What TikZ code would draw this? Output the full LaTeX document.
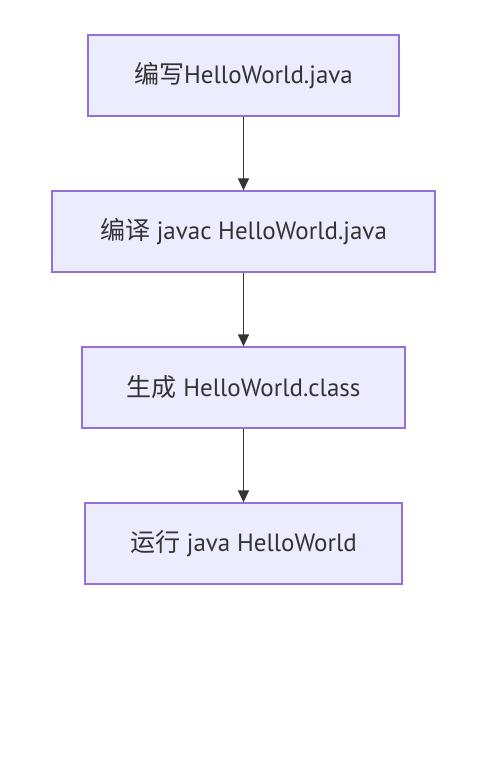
\documentclass[tikz,border=0pt]{standalone}
\usepackage{fontspec}
\setmainfont{PT Sans}
\newfontfamily\cjk{Noto Sans CJK SC}
\usetikzlibrary{arrows.meta}
\definecolor{boxfill}{HTML}{ECECFF}
\definecolor{boxline}{HTML}{9370DB}
\definecolor{ink}{HTML}{333333}
\begin{document}
\begin{tikzpicture}[x=1pt,y=1pt,
  stepbox/.style={draw=boxline,fill=boxfill,line width=1.3pt,minimum height=81pt,inner sep=0pt,text=ink,font=\fontsize{25pt}{29pt}\selectfont},
  flow/.style={draw=ink,line width=1.3pt,-{Triangle[length=12pt,width=11pt]}}]
\useasboundingbox (0,0) rectangle (478,-775);
\node[stepbox,minimum width=311pt] (a) at (243.5,-75.5) {{\cjk 编写}HelloWorld.java};
\node[stepbox,minimum width=383pt] (b) at (243.5,-231.5) {{\cjk 编译} javac HelloWorld.java};
\node[stepbox,minimum width=323pt] (c) at (243.5,-387.5) {{\cjk 生成} HelloWorld.class};
\node[stepbox,minimum width=317pt] (d) at (243.5,-543.5) {{\cjk 运行} java HelloWorld};
\draw[flow] (a.south) -- (b.north);
\draw[flow] (b.south) -- (c.north);
\draw[flow] (c.south) -- (d.north);
\end{tikzpicture}
\end{document}
